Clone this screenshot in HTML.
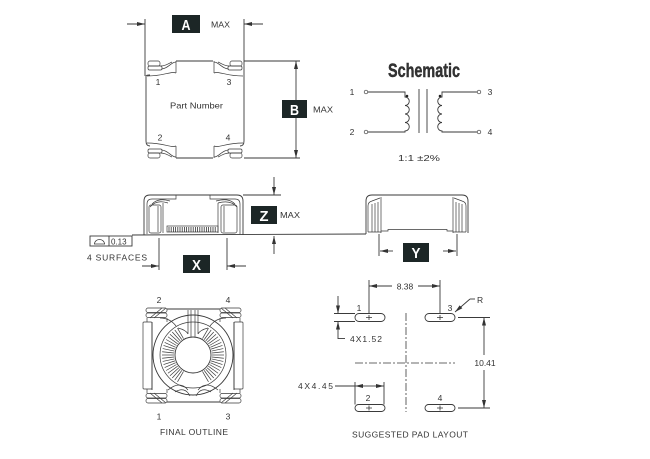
<!DOCTYPE html>
<html><head><meta charset="utf-8"><style>
html,body{margin:0;padding:0;background:#fff;}
svg{display:block;}
text{font-family:"Liberation Sans",sans-serif;fill:#333;}
.s{fill:none;stroke:#3a3a3a;stroke-width:0.9;}
.t{fill:none;stroke:#3a3a3a;stroke-width:0.7;}
.lb{fill:#1c2626;}
.lt{fill:#fff;font-weight:bold;font-size:15px;}
</style></head><body>
<svg width="650" height="459" viewBox="0 0 650 459" xmlns="http://www.w3.org/2000/svg">
<defs>
<marker id="a" viewBox="0 0 8 4" refX="8" refY="2" markerWidth="8" markerHeight="4" markerUnits="userSpaceOnUse" orient="auto-start-reverse"><path d="M0,0L8,2L0,4z" fill="#333"/></marker>
<g id="tterm">
<rect x="148" y="61" width="12" height="5" rx="2" class="t"/>
<rect x="148" y="66" width="14" height="4" rx="1.5" class="t"/>
<path d="M176,62 C171,62 169,68 162,69 M176,73 C170,71 165,76 147,76 M176,61 L176,73 M160,66 C165,66 168,64 172,62" class="t"/>
</g>
<g id="bterm">
<rect x="146" y="308" width="21" height="4.5" rx="2" class="t"/>
<rect x="146" y="313" width="21" height="4.5" rx="2" class="t"/>
<path d="M150,318 L162,308 M154,318 L166,308 M147,322 L147,318 M167,318 L167,322" class="t"/>
</g>
<line id="w" x1="212" y1="355" x2="224" y2="355" class="t"/>
</defs>

<!-- ===== TOP VIEW ===== -->
<line x1="145" y1="19" x2="145" y2="76" class="s"/>
<line x1="244" y1="19" x2="244" y2="76" class="s"/>
<line x1="127" y1="24" x2="145" y2="24" class="s" marker-end="url(#a)"/>
<line x1="263" y1="24" x2="244" y2="24" class="s" marker-end="url(#a)"/>
<rect x="172" y="15" width="28" height="18" class="lb"/>
<text x="186" y="30" class="lt" text-anchor="middle" textLength="9" lengthAdjust="spacingAndGlyphs">A</text>
<text x="211" y="27.5" font-size="8.5" textLength="19" lengthAdjust="spacingAndGlyphs">MAX</text>

<path d="M146,76 L146,141 Q146,146 150,146 M244,76 L244,141 Q244,146 240,146 M146,76 Q146,75 150,75 M176,61 L213,61 M176,158 L213,158" class="s"/>
<use href="#tterm"/>
<use href="#tterm" transform="translate(390,0) scale(-1,1)"/>
<use href="#tterm" transform="translate(0,219) scale(1,-1)"/>
<use href="#tterm" transform="translate(390,219) scale(-1,-1)"/>
<text x="158" y="85" font-size="8.5" text-anchor="middle">1</text>
<text x="229" y="85" font-size="8.5" text-anchor="middle">3</text>
<text x="160" y="140.5" font-size="8.5" text-anchor="middle">2</text>
<text x="228" y="140.5" font-size="8.5" text-anchor="middle">4</text>
<text x="170" y="108.5" font-size="8.5" textLength="53" lengthAdjust="spacingAndGlyphs">Part Number</text>

<line x1="244" y1="61" x2="300" y2="61" class="s"/>
<line x1="244" y1="158" x2="300" y2="158" class="s"/>
<line x1="296" y1="61" x2="296" y2="158" class="s" marker-start="url(#a)" marker-end="url(#a)"/>
<rect x="282" y="100" width="25" height="18" class="lb"/>
<text x="294.5" y="115" class="lt" text-anchor="middle" textLength="9" lengthAdjust="spacingAndGlyphs">B</text>
<text x="313" y="112.5" font-size="8.5" textLength="20" lengthAdjust="spacingAndGlyphs">MAX</text>

<!-- ===== SCHEMATIC ===== -->
<text x="388" y="77" font-family="Liberation Sans Narrow,Liberation Sans,sans-serif" font-weight="bold" font-size="19" fill="#1e1e1e" stroke="#1e1e1e" stroke-width="0.4" textLength="72" lengthAdjust="spacingAndGlyphs">Schematic</text>
<text x="352" y="95" font-size="8.5" text-anchor="middle">1</text>
<text x="352" y="135" font-size="8.5" text-anchor="middle">2</text>
<text x="490" y="95" font-size="8.5" text-anchor="middle">3</text>
<text x="490" y="135" font-size="8.5" text-anchor="middle">4</text>
<circle cx="366" cy="92" r="1.8" class="t"/>
<circle cx="366" cy="132" r="1.8" class="t"/>
<circle cx="479" cy="92" r="1.8" class="t"/>
<circle cx="479" cy="132" r="1.8" class="t"/>
<path d="M368,92 L405,92 L405,97 a4.25,4.25 0 0 1 0,8.5 a4.25,4.25 0 0 1 0,8.5 a4.25,4.25 0 0 1 0,8.5 a4.25,4.25 0 0 1 0,8.5 L405,132 L368,132" class="s"/>
<path d="M477,92 L442,92 L442,97 a4.25,4.25 0 0 0 0,8.5 a4.25,4.25 0 0 0 0,8.5 a4.25,4.25 0 0 0 0,8.5 a4.25,4.25 0 0 0 0,8.5 L442,132 L477,132" class="s"/>
<line x1="419" y1="89" x2="419" y2="133" class="s"/>
<line x1="427" y1="89" x2="427" y2="133" class="s"/>
<circle cx="407" cy="96" r="1.3" fill="#222"/>
<circle cx="440" cy="96" r="1.3" fill="#222"/>
<text x="398" y="161" font-size="8" textLength="42" lengthAdjust="spacingAndGlyphs">1:1  ±2%</text>

<!-- ===== SIDE VIEW LEFT ===== -->
<line x1="132" y1="235" x2="366" y2="234" class="s"/>
<path d="M144,235 L144,201 Q144,195 150,195 L237,195 Q243,195 243,201 L243,235" class="s"/>
<path d="M147,234 L147,204 Q147,199 152,199 L176,199 L176,195 M240,234 L240,204 Q240,199 235,199 L210,199 L210,195" class="t"/>
<rect x="149" y="205" width="12" height="28" rx="2" class="t"/>
<path d="M158,206 L158,232 M163,203 L163,233 M150,207 C155,201 162,201 168,203 M152,204 C157,199 163,199 170,201" class="t"/>
<rect x="221" y="205" width="16" height="28" rx="2" class="t"/>
<path d="M224,206 L224,232 M218,203 L218,233 M237,207 C232,201 225,201 218,203 M235,204 C230,199 224,199 216,201" class="t"/>
<rect x="167" y="226" width="51" height="6" class="t"/>
<path d="M169,227v5M171.2,227v5M173.4,227v5M175.6,227v5M177.8,227v5M180,227v5M182.2,227v5M184.4,227v5M186.6,227v5M188.8,227v5M191,227v5M193.2,227v5M195.4,227v5M197.6,227v5M199.8,227v5M202,227v5M204.2,227v5M206.4,227v5M208.6,227v5M210.8,227v5M213,227v5M215.2,227v5" stroke="#333" stroke-width="0.8"/>

<!-- Z dim -->
<line x1="243" y1="195" x2="281" y2="195" class="s"/>
<line x1="274" y1="177" x2="274" y2="195" class="s" marker-end="url(#a)"/>
<line x1="274" y1="254" x2="274" y2="236" class="s" marker-end="url(#a)"/>
<rect x="251" y="206" width="26" height="18" class="lb"/>
<text x="264" y="221" class="lt" text-anchor="middle" textLength="9" lengthAdjust="spacingAndGlyphs">Z</text>
<text x="280" y="218" font-size="8.5" textLength="20" lengthAdjust="spacingAndGlyphs">MAX</text>

<!-- 0.13 box -->
<rect x="90" y="236" width="42" height="10" class="s"/>
<line x1="109" y1="236" x2="109" y2="246" class="s"/>
<path d="M94,244 L105,244 M94.5,244 A5,4.5 0 0 1 104.5,244" class="t"/>
<text x="111" y="244.5" font-size="8">0.13</text>
<text x="87" y="260.5" font-size="8.5" textLength="60" lengthAdjust="spacing">4 SURFACES</text>

<!-- X dim -->
<line x1="159" y1="238" x2="159" y2="270" class="s"/>
<line x1="227" y1="238" x2="227" y2="270" class="s"/>
<line x1="142" y1="266" x2="159" y2="266" class="s" marker-end="url(#a)"/>
<line x1="246" y1="266" x2="227" y2="266" class="s" marker-end="url(#a)"/>
<rect x="183" y="255" width="27" height="18" class="lb"/>
<text x="196.5" y="270" class="lt" text-anchor="middle" textLength="9" lengthAdjust="spacingAndGlyphs">X</text>

<!-- ===== SIDE VIEW RIGHT ===== -->
<path d="M366,234 L366,201 Q366,195 372,195 L462,195 Q468,195 468,201 L468,233" class="s"/>
<path d="M381,197 L381,233 M453,197 L453,233 M381,231 L388,231 L388,229.5 L447,229.5 L447,231 L453,231" class="t"/>
<path d="M368,232 L368,206 Q368,202 372,201 L380,198 M372,204 L372,232 M375,203 L375,232 M378,202 L378,232 M368,232 L381,232" class="t"/>
<path d="M466,232 L466,206 Q466,202 462,201 L454,198 M462,204 L462,232 M459,203 L459,232 M456,202 L456,232 M453,232 L466,232" class="t"/>
<!-- Y dim -->
<line x1="379" y1="234" x2="379" y2="256" class="s"/>
<line x1="457" y1="234" x2="457" y2="256" class="s"/>
<line x1="393" y1="251" x2="380" y2="251" class="s" marker-end="url(#a)"/>
<line x1="443" y1="251" x2="456" y2="251" class="s" marker-end="url(#a)"/>
<rect x="403" y="243" width="26" height="19" class="lb"/>
<text x="416" y="258" class="lt" text-anchor="middle" textLength="9" lengthAdjust="spacingAndGlyphs">Y</text>

<!-- ===== BOTTOM VIEW ===== -->
<text x="159" y="303" font-size="8.5" text-anchor="middle">2</text>
<text x="228" y="303" font-size="8.5" text-anchor="middle">4</text>
<text x="159" y="419.5" font-size="8.5" text-anchor="middle">1</text>
<text x="228" y="419.5" font-size="8.5" text-anchor="middle">3</text>
<path d="M167,309 L220,309 M167,402 L220,402 M152,322 L152,390 M234,322 L234,390" class="s"/>
<rect x="143" y="322" width="9" height="67" rx="1" class="t"/>
<rect x="234" y="322" width="9" height="67" rx="1" class="t"/>
<use href="#bterm"/>
<use href="#bterm" transform="translate(387,0) scale(-1,1)"/>
<use href="#bterm" transform="translate(0,711) scale(1,-1)"/>
<use href="#bterm" transform="translate(387,711) scale(-1,-1)"/>
<circle cx="193" cy="355" r="40" class="s"/>
<circle cx="193" cy="355" r="33" class="t"/>
<circle cx="193" cy="355" r="18" class="s"/>
<g>
<use href="#w" transform="rotate(-60 193 355)"/><use href="#w" transform="rotate(-54 193 355)"/><use href="#w" transform="rotate(-48 193 355)"/><use href="#w" transform="rotate(-42 193 355)"/><use href="#w" transform="rotate(-36 193 355)"/><use href="#w" transform="rotate(-30 193 355)"/><use href="#w" transform="rotate(-24 193 355)"/><use href="#w" transform="rotate(-18 193 355)"/><use href="#w" transform="rotate(-12 193 355)"/><use href="#w" transform="rotate(-6 193 355)"/><use href="#w"/><use href="#w" transform="rotate(6 193 355)"/><use href="#w" transform="rotate(12 193 355)"/><use href="#w" transform="rotate(18 193 355)"/><use href="#w" transform="rotate(24 193 355)"/><use href="#w" transform="rotate(30 193 355)"/><use href="#w" transform="rotate(36 193 355)"/><use href="#w" transform="rotate(42 193 355)"/><use href="#w" transform="rotate(48 193 355)"/><use href="#w" transform="rotate(54 193 355)"/><use href="#w" transform="rotate(60 193 355)"/>
<use href="#w" transform="rotate(120 193 355)"/><use href="#w" transform="rotate(126 193 355)"/><use href="#w" transform="rotate(132 193 355)"/><use href="#w" transform="rotate(138 193 355)"/><use href="#w" transform="rotate(144 193 355)"/><use href="#w" transform="rotate(150 193 355)"/><use href="#w" transform="rotate(156 193 355)"/><use href="#w" transform="rotate(162 193 355)"/><use href="#w" transform="rotate(168 193 355)"/><use href="#w" transform="rotate(174 193 355)"/><use href="#w" transform="rotate(180 193 355)"/><use href="#w" transform="rotate(186 193 355)"/><use href="#w" transform="rotate(192 193 355)"/><use href="#w" transform="rotate(198 193 355)"/><use href="#w" transform="rotate(204 193 355)"/><use href="#w" transform="rotate(210 193 355)"/><use href="#w" transform="rotate(216 193 355)"/><use href="#w" transform="rotate(222 193 355)"/><use href="#w" transform="rotate(228 193 355)"/><use href="#w" transform="rotate(234 193 355)"/><use href="#w" transform="rotate(240 193 355)"/>
</g>
<path d="M188,310 L188,334 M191,310 L191,337 M195,310 L195,337 M198,310 L198,334 M188,334 Q186,330 178,328 M198,334 Q200,330 208,328" class="t"/>
<path d="M175,392 Q185,386 190,396 M211,392 Q201,386 196,396 M168,390 Q180,380 188,390 M218,390 Q206,380 198,390" class="t"/>
<path d="M160,318 Q170,318 176,326 M226,318 Q216,318 210,326" class="t"/>
<text x="160" y="435" font-size="8.5" textLength="68" lengthAdjust="spacing">FINAL OUTLINE</text>

<!-- ===== PAD LAYOUT ===== -->
<line x1="369" y1="280" x2="369" y2="313" class="s"/>
<line x1="440" y1="280" x2="440" y2="313" class="s"/>
<line x1="392" y1="286" x2="369" y2="286" class="s" marker-end="url(#a)"/>
<line x1="418" y1="286" x2="440" y2="286" class="s" marker-end="url(#a)"/>
<text x="405" y="289.5" font-size="8.5" text-anchor="middle">8.38</text>

<rect x="355" y="313.5" width="30" height="8" rx="4" class="s"/>
<rect x="425" y="313.5" width="30" height="8" rx="4" class="s"/>
<rect x="355" y="404.5" width="30" height="7" rx="3.5" class="s"/>
<rect x="425" y="404.5" width="30" height="7" rx="3.5" class="s"/>
<path d="M366,317.5h6M369,315v5M437,317.5h6M440,315v5M366,408h6M369,405.5v5M437,408h6M440,405.5v5" stroke="#333" stroke-width="0.8"/>
<text x="359" y="311" font-size="8.5" text-anchor="middle">1</text>
<text x="450" y="311" font-size="8.5" text-anchor="middle">3</text>
<text x="368" y="401" font-size="8.5" text-anchor="middle">2</text>
<text x="440" y="401" font-size="8.5" text-anchor="middle">4</text>

<text x="477" y="303" font-size="8.5">R</text>
<path d="M475,299 L470,299" class="s"/>
<line x1="470" y1="299" x2="455" y2="312" class="s" marker-end="url(#a)"/>

<line x1="334" y1="313.5" x2="355" y2="313.5" class="s"/>
<line x1="334" y1="321.5" x2="355" y2="321.5" class="s"/>
<line x1="338" y1="296" x2="338" y2="313.5" class="s" marker-end="url(#a)"/>
<path d="M338,339 L338,321.5" class="s" marker-end="url(#a)"/>
<path d="M338,338.5 L345,338.5" class="s"/>
<text x="350" y="342" font-size="8.5" textLength="32" lengthAdjust="spacing">4X1.52</text>

<line x1="406" y1="313" x2="406" y2="412" stroke="#3a3a3a" stroke-width="0.8" stroke-dasharray="8 2 2 2"/>
<line x1="355" y1="363" x2="455" y2="363" stroke="#3a3a3a" stroke-width="0.8" stroke-dasharray="8 2 2 2"/>

<line x1="458" y1="317.5" x2="490" y2="317.5" class="s"/>
<line x1="458" y1="408" x2="490" y2="408" class="s"/>
<line x1="484" y1="355" x2="484" y2="317.5" class="s" marker-end="url(#a)"/>
<line x1="484" y1="370" x2="484" y2="408" class="s" marker-end="url(#a)"/>
<text x="485" y="366" font-size="8.5" text-anchor="middle">10.41</text>

<text x="298" y="389" font-size="8.5" textLength="35" lengthAdjust="spacing">4X4.45</text>
<line x1="335" y1="386" x2="355" y2="386" class="s"/>
<line x1="355" y1="382" x2="355" y2="404.5" class="s"/>
<line x1="384" y1="382" x2="384" y2="404.5" class="s"/>
<line x1="369" y1="386" x2="355" y2="386" class="s" marker-end="url(#a)"/>
<line x1="369" y1="386" x2="384" y2="386" class="s" marker-end="url(#a)"/>

<text x="352" y="437.5" font-size="8.5" textLength="116" lengthAdjust="spacing">SUGGESTED PAD LAYOUT</text>
</svg>
</body></html>
